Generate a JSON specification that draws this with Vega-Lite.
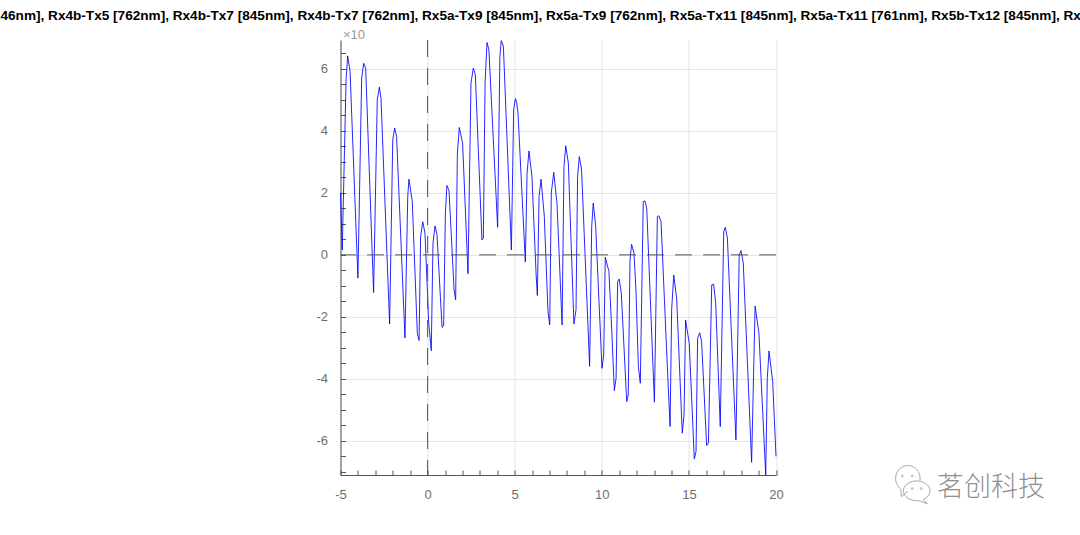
{
  "$schema": "https://vega.github.io/schema/vega-lite/v6.json",
  "autosize": "none",
  "width": 435.5,
  "height": 435,
  "padding": {"left": 340.5, "top": 40, "right": 304, "bottom": 60},
  "background": "white",
  "config": {"view": {"stroke": null}, "font": "Liberation Sans"},
  "title": {
    "text": "46nm], Rx4b-Tx5 [762nm], Rx4b-Tx7 [845nm], Rx4b-Tx7 [762nm], Rx5a-Tx9 [845nm], Rx5a-Tx9 [762nm], Rx5a-Tx11 [845nm], Rx5a-Tx11 [761nm], Rx5b-Tx12 [845nm], Rx",
    "anchor": "start",
    "frame": "group",
    "dx": -340,
    "offset": 5,
    "font": "Liberation Sans",
    "fontSize": 13.6,
    "fontWeight": "bold",
    "color": "#000000"
  },
  "datasets": {
    "signal": [
      {"time": -5, "amp": 2}, {"time": -4.9, "amp": 0.16}, {"time": -4.68, "amp": 5.65}, {"time": -4.59, "amp": 6.42}, {"time": -4.45, "amp": 5.91}, {"time": -4.0, "amp": -0.75},
      {"time": -3.785, "amp": 5.7}, {"time": -3.67, "amp": 6.18}, {"time": -3.555, "amp": 6.02}, {"time": -3.1, "amp": -1.215},
      {"time": -2.89, "amp": 5.0}, {"time": -2.77, "amp": 5.41}, {"time": -2.675, "amp": 5.05}, {"time": -2.18, "amp": -2.23},
      {"time": -2.0, "amp": 3.71}, {"time": -1.89, "amp": 4.09}, {"time": -1.78, "amp": 3.82}, {"time": -1.3, "amp": -2.68},
      {"time": -1.14, "amp": 1.88}, {"time": -1.07, "amp": 2.44}, {"time": -0.88, "amp": 1.72}, {"time": -0.59, "amp": -2.53}, {"time": -0.49, "amp": -2.76},
      {"time": -0.4, "amp": 0.59}, {"time": -0.28, "amp": 1.07}, {"time": -0.15, "amp": 0.7}, {"time": 0.06, "amp": -2.15}, {"time": 0.21, "amp": -3.09},
      {"time": 0.31, "amp": 0.38}, {"time": 0.425, "amp": 0.935}, {"time": 0.54, "amp": 0.645}, {"time": 0.83, "amp": -2.34}, {"time": 0.92, "amp": -2.29},
      {"time": 1.02, "amp": 1.34}, {"time": 1.11, "amp": 2.24}, {"time": 1.23, "amp": 2.07}, {"time": 1.52, "amp": -1.13}, {"time": 1.61, "amp": -1.45},
      {"time": 1.71, "amp": 3.28}, {"time": 1.82, "amp": 4.11}, {"time": 2.01, "amp": 3.6}, {"time": 2.32, "amp": -0.61},
      {"time": 2.49, "amp": 5.54}, {"time": 2.625, "amp": 6.02}, {"time": 2.74, "amp": 5.81}, {"time": 3.12, "amp": 0.48}, {"time": 3.2, "amp": 0.54},
      {"time": 3.3, "amp": 5.54}, {"time": 3.41, "amp": 6.85}, {"time": 3.52, "amp": 6.61}, {"time": 4.02, "amp": 0.89},
      {"time": 4.15, "amp": 6.4}, {"time": 4.23, "amp": 6.91}, {"time": 4.35, "amp": 6.73}, {"time": 4.81, "amp": 0.16},
      {"time": 4.94, "amp": 4.68}, {"time": 5.04, "amp": 5.04}, {"time": 5.12, "amp": 4.9}, {"time": 5.19, "amp": 4.57}, {"time": 5.61, "amp": -0.23},
      {"time": 5.71, "amp": 2.63}, {"time": 5.82, "amp": 3.35}, {"time": 5.99, "amp": 2.53}, {"time": 6.23, "amp": -0.65}, {"time": 6.3, "amp": -1.31},
      {"time": 6.4, "amp": 1.88}, {"time": 6.51, "amp": 2.44}, {"time": 6.7, "amp": 1.24}, {"time": 6.91, "amp": -1.83}, {"time": 7.01, "amp": -2.26},
      {"time": 7.1, "amp": 1.99}, {"time": 7.24, "amp": 2.66}, {"time": 7.43, "amp": 1.65}, {"time": 7.72, "amp": -2.26},
      {"time": 7.83, "amp": 2.85}, {"time": 7.93, "amp": 3.52}, {"time": 8.08, "amp": 2.96}, {"time": 8.4, "amp": -2.23}, {"time": 8.52, "amp": -1.77},
      {"time": 8.61, "amp": 2.53}, {"time": 8.71, "amp": 3.17}, {"time": 8.84, "amp": 2.74}, {"time": 9.3, "amp": -3.6},
      {"time": 9.42, "amp": 0.91}, {"time": 9.51, "amp": 1.67}, {"time": 9.65, "amp": 0.91}, {"time": 10.01, "amp": -3.66}, {"time": 10.11, "amp": -3.23},
      {"time": 10.2, "amp": -0.08}, {"time": 10.41, "amp": -0.54}, {"time": 10.57, "amp": -2.42}, {"time": 10.72, "amp": -4.38}, {"time": 10.82, "amp": -3.98},
      {"time": 10.91, "amp": -0.86}, {"time": 11.0, "amp": -0.78}, {"time": 11.12, "amp": -1.24}, {"time": 11.43, "amp": -4.73}, {"time": 11.52, "amp": -4.52},
      {"time": 11.62, "amp": -0.16}, {"time": 11.71, "amp": 0.34}, {"time": 11.85, "amp": 0.05}, {"time": 11.96, "amp": -1.13}, {"time": 12.1, "amp": -3.6}, {"time": 12.21, "amp": -4.14},
      {"time": 12.38, "amp": 1.72}, {"time": 12.48, "amp": 1.74}, {"time": 12.58, "amp": 1.5}, {"time": 13.02, "amp": -4.75},
      {"time": 13.19, "amp": 1.24}, {"time": 13.28, "amp": 1.26}, {"time": 13.4, "amp": 1.07}, {"time": 13.72, "amp": -3.06}, {"time": 13.92, "amp": -5.54},
      {"time": 14.01, "amp": -1.77}, {"time": 14.13, "amp": -0.65}, {"time": 14.3, "amp": -1.43}, {"time": 14.62, "amp": -5.75}, {"time": 14.72, "amp": -5.16},
      {"time": 14.81, "amp": -2.1}, {"time": 15.02, "amp": -2.85}, {"time": 15.31, "amp": -6.58}, {"time": 15.41, "amp": -6.34},
      {"time": 15.5, "amp": -2.69}, {"time": 15.62, "amp": -2.51}, {"time": 15.73, "amp": -2.8}, {"time": 16.02, "amp": -6.15}, {"time": 16.12, "amp": -6.07},
      {"time": 16.31, "amp": -0.97}, {"time": 16.42, "amp": -0.95}, {"time": 16.54, "amp": -1.56}, {"time": 16.8, "amp": -5.54},
      {"time": 17.0, "amp": 0.75}, {"time": 17.09, "amp": 0.89}, {"time": 17.21, "amp": 0.54}, {"time": 17.7, "amp": -5.97},
      {"time": 17.89, "amp": 0}, {"time": 17.99, "amp": 0.14}, {"time": 18.12, "amp": -0.26}, {"time": 18.6, "amp": -6.69},
      {"time": 18.8, "amp": -1.65}, {"time": 19.02, "amp": -2.53}, {"time": 19.41, "amp": -7.1},
      {"time": 19.5, "amp": -3.98}, {"time": 19.6, "amp": -3.1}, {"time": 19.81, "amp": -4.09}, {"time": 20, "amp": -6.5}
    ],
    "origin": [{"time": 0, "amp": 0}],
    "mark": [{"time": 32.34, "amp": -7.52, "label": "茗创科技"}],
    "icon": [{"time": 27.87, "amp": -7.45}]
  },
  "layer": [
    {
      "data": {"name": "signal"},
      "mark": {"type": "line", "stroke": "#0000ff", "strokeWidth": 1, "opacity": 0.85},
      "encoding": {
        "x": {
          "field": "time",
          "type": "quantitative",
          "scale": {"domain": [-5, 20], "nice": false, "zero": false},
          "axis": {
            "title": null,
            "values": [-5, -4, -3, -2, -1, 0, 1, 2, 3, 4, 5, 6, 7, 8, 9, 10, 11, 12, 13, 14, 15, 16, 17, 18, 19, 20],
            "tickCount": 100,
            "labelExpr": "datum.value % 5 === 0 ? datum.value : ''",
            "grid": true,
            "gridColor": "#e4e4e4",
            "gridOpacity": {"condition": {"test": "datum.value % 5 === 0", "value": 1}, "value": 0},
            "domainColor": "#555555",
            "tickColor": "#555555",
            "tickSize": -5,
            "labelPadding": 18,
            "labelColor": "#6e6e6e",
            "labelFontSize": 13,
            "labelFont": "Liberation Sans",
            "labelOverlap": false,
            "labelFlush": false
          }
        },
        "y": {
          "field": "amp",
          "type": "quantitative",
          "scale": {"domain": [-7.1, 6.93], "nice": false, "zero": false},
          "axis": {
            "title": "×10",
            "titleAngle": 0,
            "titleAlign": "left",
            "titleBaseline": "alphabetic",
            "titleX": 2,
            "titleY": -2,
            "titleFontSize": 13,
            "titleFontWeight": "normal",
            "titleColor": "#999999",
            "values": [-7, -6.5, -6, -5.5, -5, -4.5, -4, -3.5, -3, -2.5, -2, -1.5, -1, -0.5, 0, 0.5, 1, 1.5, 2, 2.5, 3, 3.5, 4, 4.5, 5, 5.5, 6, 6.5],
            "tickCount": 100,
            "labelExpr": "datum.value % 2 === 0 ? datum.value : ''",
            "grid": true,
            "gridColor": "#e4e4e4",
            "gridOpacity": {"condition": {"test": "datum.value % 2 === 0", "value": 1}, "value": 0},
            "domainColor": "#555555",
            "tickColor": "#555555",
            "tickSize": -5,
            "labelPadding": 18,
            "labelColor": "#6e6e6e",
            "labelFontSize": 13,
            "labelFont": "Liberation Sans",
            "labelOverlap": false,
            "labelFlush": false
          }
        }
      }
    },
    {
      "data": {"name": "origin"},
      "mark": {"type": "rule", "stroke": "#555555", "strokeWidth": 1, "strokeDash": [17, 11]},
      "encoding": {"y": {"field": "amp", "type": "quantitative", "scale": {"domain": [-7.1, 6.93], "nice": false, "zero": false}}}
    },
    {
      "data": {"name": "origin"},
      "mark": {"type": "rule", "stroke": "#555555", "strokeWidth": 1, "strokeDash": [17, 11]},
      "encoding": {"x": {"field": "time", "type": "quantitative", "scale": {"domain": [-5, 20], "nice": false, "zero": false}}}
    },
    {
      "data": {"name": "mark"},
      "mark": {"type": "text", "font": "Noto Sans CJK SC", "fontSize": 27, "fontWeight": 300, "color": "#8f8f8f", "align": "center", "baseline": "middle"},
      "encoding": {
        "x": {"field": "time", "type": "quantitative", "scale": {"domain": [-5, 20], "nice": false, "zero": false}},
        "y": {"field": "amp", "type": "quantitative", "scale": {"domain": [-7.1, 6.93], "nice": false, "zero": false}},
        "text": {"field": "label", "type": "nominal"}
      }
    },
    {
      "data": {"name": "icon"},
      "mark": {
        "type": "point",
        "filled": false,
        "size": 1296,
        "stroke": "#a8a8a8",
        "strokeWidth": 1,
        "opacity": 1,
        "shape": "M-0.3,0.32 L-0.65,0.6 L-0.68,0.18 A0.68,0.72 0 1 1 0.38,-0.3 M-0.54,0.27 A0.74,0.55 0 1 1 0.55,0.76 L0.8,1 L0.3,0.82 A0.74,0.55 0 0 1 -0.54,0.27 M-0.65,-0.55 a0.05,0.05 0 1 0 0.1,0 a0.05,0.05 0 1 0 -0.1,0 M-0.1,-0.55 a0.05,0.05 0 1 0 0.1,0 a0.05,0.05 0 1 0 -0.1,0 M-0.1,0.15 a0.05,0.05 0 1 0 0.1,0 a0.05,0.05 0 1 0 -0.1,0 M0.4,0.15 a0.05,0.05 0 1 0 0.1,0 a0.05,0.05 0 1 0 -0.1,0"
      },
      "encoding": {
        "x": {"field": "time", "type": "quantitative", "scale": {"domain": [-5, 20], "nice": false, "zero": false}},
        "y": {"field": "amp", "type": "quantitative", "scale": {"domain": [-7.1, 6.93], "nice": false, "zero": false}}
      }
    }
  ]
}
